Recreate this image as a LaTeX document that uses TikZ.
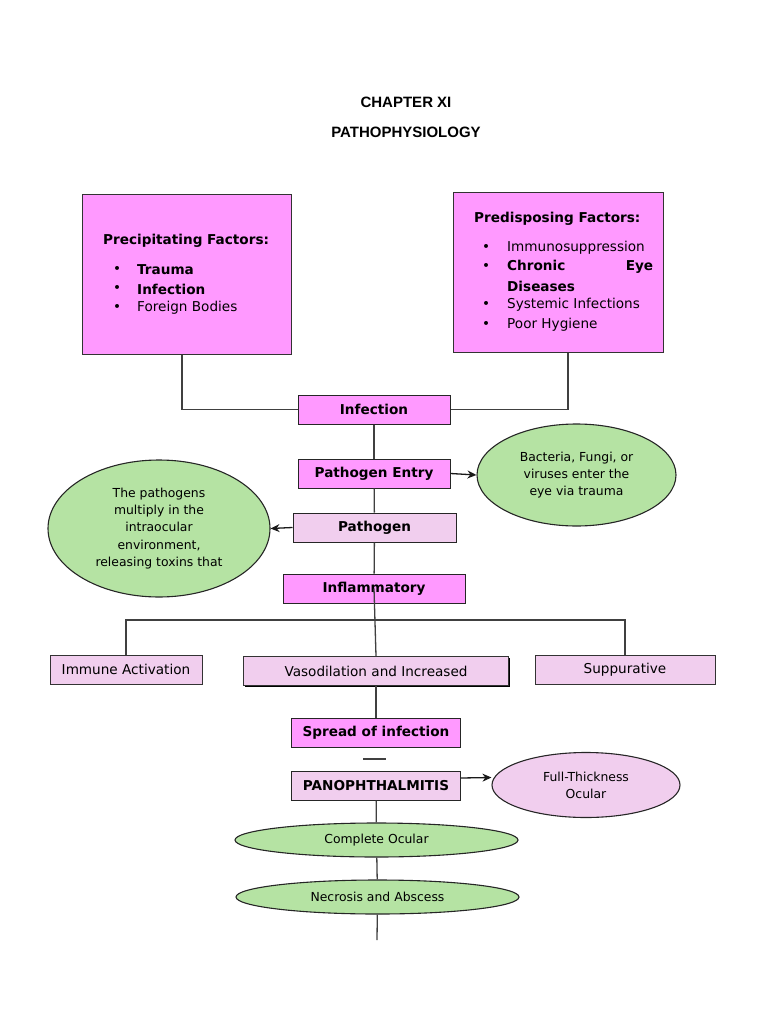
\documentclass[tikz,border=0pt]{standalone}
\usepackage{fontspec}
\setmainfont{DejaVu Sans}
\newfontfamily\titlefont{Liberation Sans}
\usetikzlibrary{shapes.geometric,shadows,arrows.meta}

\definecolor{boxpink}{RGB}{255,153,255}
\definecolor{lightpink}{RGB}{241,206,238}
\definecolor{notegreen}{RGB}{181,227,163}

\begin{document}
\begin{tikzpicture}[
	x=1pt,
	y=-1pt,
	title/.style={
		font=\titlefont\bfseries\fontsize{15}{17}\selectfont,
		inner sep=0
	},
	factor/.style={
		rectangle,
		draw=black!80,
		line width=1pt,
		fill=boxpink,
		minimum width=209pt,
		minimum height=159pt
	},
	item/.style={
		anchor=west,
		inner sep=0,
		font=\fontsize{13.6}{15}\selectfont
	},
	stage/.style={
		rectangle,
		draw=black!85,
		line width=1pt,
		fill=boxpink,
		font=\bfseries\fontsize{13.6}{15}\selectfont,
		minimum height=29pt,
		inner sep=0
	},
	substage/.style={
		stage,
		fill=lightpink
	},
	result/.style={
		rectangle,
		draw=black!80,
		line width=1pt,
		fill=lightpink,
		font=\fontsize{13.6}{15}\selectfont,
		minimum height=29pt,
		inner sep=0
	},
	note/.style={
		ellipse,
		draw=black!85,
		line width=1.1pt,
		fill=notegreen,
		align=center,
		font=\fontsize{12.4}{17.2}\selectfont,
		inner sep=0
	},
	link/.style={
		draw=black!75,
		line width=1.3pt
	},
	arrow/.style={
		link,
		draw=black!90,
		-{Stealth[length=9pt,width=8pt]}
	},
]
\useasboundingbox (0,0) rectangle (768,1024);

% Title
\node[title] (chapter) at (406, 102) {CHAPTER XI};
\node[title] (heading) at (406, 132) {PATHOPHYSIOLOGY};

% Precipitating factors
\node[factor] (precip) at (186.5, 274.5) {};
\node[item,font=\bfseries\fontsize{13.6}{15}\selectfont] (precipHead) at (103, 241) {Precipitating Factors:};
\foreach \y/\txt [count=\i] in {270/\textbf{Trauma}, 289/\textbf{Infection}, 308/Foreign Bodies} {
	\node[item] (precipDot\i) at (113, \y) {\textbullet};
	\node[item] (precip\i) at (137, \y) {\txt};
}

% Predisposing factors
\node[factor,minimum width=210pt] (predis) at (558, 272.5) {};
\node[item,font=\bfseries\fontsize{13.6}{15}\selectfont] (predisHead) at (474, 219) {Predisposing Factors:};
\foreach \y in {248, 267, 305, 325}
	\node[item] (predisDot\y) at (482, \y) {\textbullet};
\foreach \y/\txt [count=\i] in {248/Immunosuppression, 267/{\textbf{\makebox[146pt]{Chronic\hfill Eye}}}, 286/\textbf{Diseases}, 305/Systemic Infections, 325/Poor Hygiene}
	\node[item] (predis\i) at (507, \y) {\txt};

% Infection and entry
\node[stage,minimum width=152pt] (infection) at (374, 409.5) {Infection};
\node[stage,minimum width=152pt] (entry) at (374, 473.5) {Pathogen Entry};
\node[note,minimum width=199pt,minimum height=102pt] (bacteria) at (576.5, 475) {Bacteria, Fungi, or\\viruses enter the\\eye via trauma};

% Pathogen
\node[substage,minimum width=163pt,drop shadow={shadow xshift=1pt,shadow yshift=-1pt,fill=black,opacity=1}] (pathogen) at (374.5, 527.5) {Pathogen};
\node[note,minimum width=222pt,minimum height=137pt] (multiply) at (159, 528.5) {The pathogens\\multiply in the\\intraocular\\environment,\\releasing toxins that};

% Inflammatory
\node[stage,minimum width=182pt] (inflam) at (374, 588.5) {Inflammatory};
\node[result,minimum width=152pt] (immune) at (126, 669.5) {Immune Activation};
\node[result,minimum width=265pt,drop shadow={shadow xshift=1pt,shadow yshift=-1pt,fill=black,opacity=1}] (vaso) at (376, 671) {Vasodilation and Increased};
\node[result,minimum width=180pt] (suppur) at (625, 670) {Suppurative};
\coordinate (branch) at (376, 620);

% Spread
\node[stage,minimum width=169pt] (spread) at (376, 732.5) {Spread of infection};
\coordinate (dashL) at (363, 759);
\coordinate (dashR) at (386, 759);
\node[substage,minimum width=169pt] (pan) at (376, 785.5) {PANOPHTHALMITIS};
\node[note,fill=lightpink,minimum width=188pt,minimum height=65pt] (full) at (586, 785) {Full-Thickness\\Ocular};

% Outcome
\node[note,minimum width=283pt,minimum height=34pt,font=\fontsize{12.4}{14}\selectfont] (complete) at (376.5, 840) {Complete Ocular};
\node[note,minimum width=283pt,minimum height=34pt,font=\fontsize{12.4}{14}\selectfont] (necrosis) at (377.5, 897) {Necrosis and Abscess};
\coordinate (tail) at (377, 940);

% Connections
\draw[link] ([xshift=-4.5pt]precip.south) |- (infection.west);
\draw[link] ([xshift=10pt]predis.south) |- (infection.east);
\draw[link] (infection) -- (entry);
\draw[arrow] (entry.east) -- (bacteria.west);
\draw[link] (entry) -- (pathogen);
\draw[arrow] (pathogen.west) -- (multiply.east);
\draw[link] (pathogen) -- (inflam);
\draw[link] (inflam.center) -- (vaso.north);
\draw[link] (immune.north) |- (branch) -| (suppur.north);
\draw[link] (vaso) -- (spread);
\draw[link] (dashL) -- (dashR);
\draw[arrow] ([yshift=7.5pt]pan.east) -- ([yshift=7.5pt]full.west);
\draw[link] (pan) -- (complete);
\draw[link] (complete) -- (necrosis);
\draw[link] (necrosis) -- (tail);

\end{tikzpicture}
\end{document}
